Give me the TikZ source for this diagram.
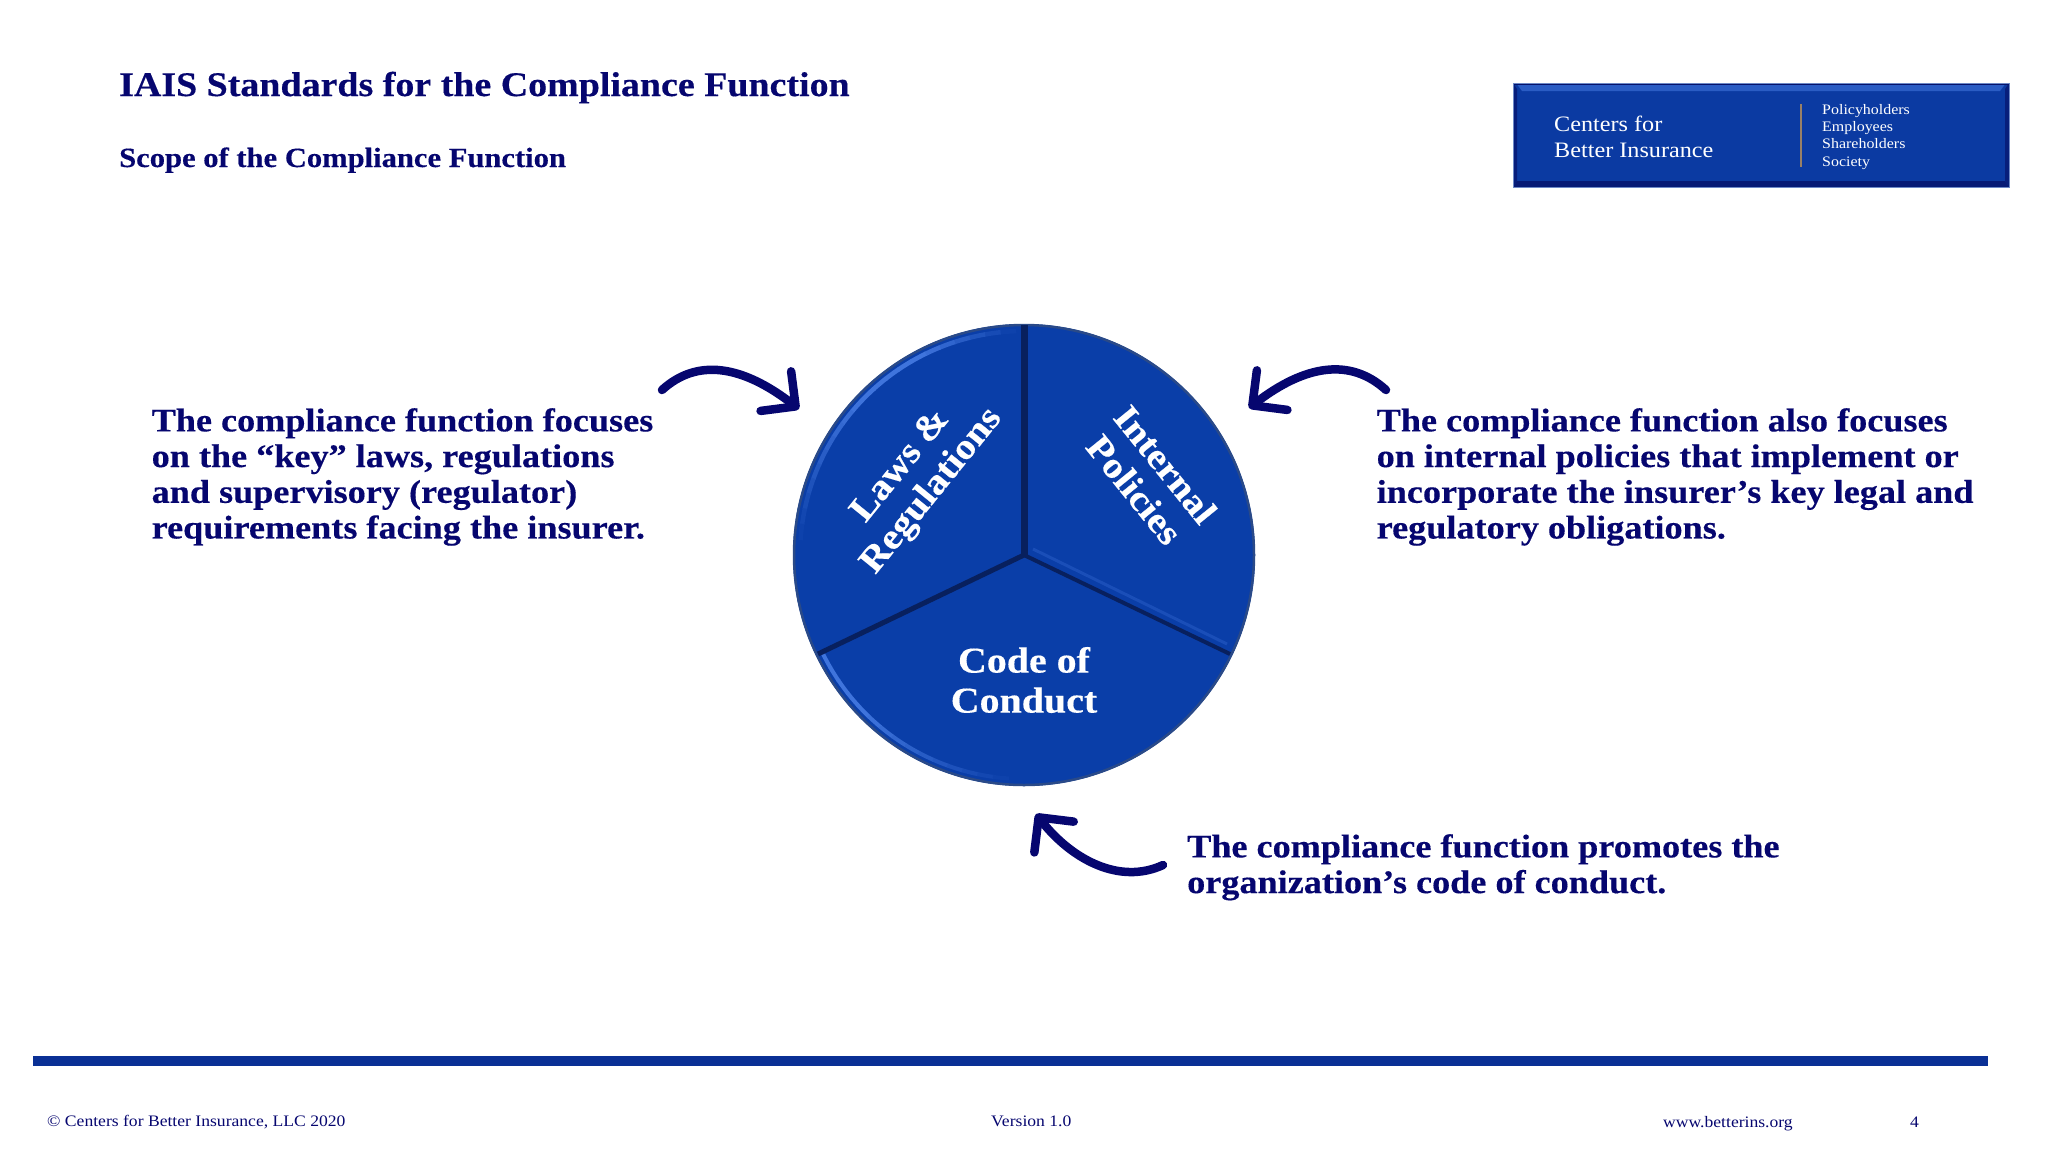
\documentclass[tikz,border=0pt]{standalone}
\usepackage{fontspec}
\setmainfont[FakeStretch=1.1,BoldFeatures={FakeBold=0.35}]{Liberation Serif}
\usetikzlibrary{arrows.meta,positioning,calc}
\definecolor{navytext}{HTML}{06066F}
\definecolor{pieblue}{HTML}{0A3EA8}
\definecolor{pielight}{HTML}{3F74DC}
\definecolor{piedark}{HTML}{08205E}
\definecolor{piegrey}{HTML}{2A4A88}
\definecolor{barblue}{HTML}{0A3095}
\definecolor{logoblue}{HTML}{0B3AA2}
\definecolor{logolight}{HTML}{2A5CC4}
\definecolor{logodark}{HTML}{06126A}
\tikzset{
  title/.style={anchor=base west, text=navytext, inner sep=0pt, font=\fontsize{34.5}{36}\selectfont\bfseries},
  subtitle/.style={anchor=base west, text=navytext, inner sep=0pt, font=\fontsize{27.8}{30}\selectfont\bfseries},
  bodytext/.style={anchor=north west, text=navytext, inner sep=0pt, align=left, font=\fontsize{32.9}{35.7}\selectfont\bfseries},
  slicetext/.style={text=white, inner sep=0pt, align=center, font=\fontsize{36.3}{40}\selectfont\bfseries},
  foot/.style={anchor=base west, text=navytext, inner sep=0pt, font=\fontsize{16}{18}\selectfont},
  logobig/.style={anchor=base west, text=white, inner sep=0pt, font=\fontsize{22}{26}\selectfont},
  logosmall/.style={anchor=base west, text=white, inner sep=0pt, font=\fontsize{14.5}{17}\selectfont},
  curvearrow/.style={draw=navytext, line width=8.5pt, line cap=round, -{Straight Barb[round,length=25pt,width=50pt]}},
}
\begin{document}
\begin{tikzpicture}[x=1pt,y=-1pt]
  \useasboundingbox (0,0) rectangle (2048,1152);

  \node[title] (pagetitle) at (119,96) {IAIS Standards for the Compliance Function};
  \node[subtitle] (pagesub) at (119,167) {Scope of the Compliance Function};

  % logo
  \begin{scope}[shift={(1513,83)}]
    \fill[logoblue] (0,0) rectangle (496,104);
    \fill[logodark!70!logoblue] (0,0) -- (4,6) -- (4,98) -- (0,104) -- cycle;
    \fill[logodark!70!logoblue] (496,0) -- (492,6) -- (492,98) -- (496,104) -- cycle;
    \fill[logodark!80!logoblue] (0,104) -- (4,98) -- (492,98) -- (496,104) -- cycle;
    \fill[logolight] (3,0) -- (9,8) -- (487,8) -- (493,0) -- cycle;
    \draw[logodark, line width=2pt] (0,1) -- (496,1);
    \draw[logoblue!60!white, line width=.8pt] (0,0) rectangle (496,104);
    \draw[line width=2pt, draw=gray!80!orange] (288,21) -- (288,84);
    \node[logobig] (logoa) at (41,48) {Centers for};
    \node[logobig] (logob) at (41,74) {Better Insurance};
    \node[logosmall] (logoc) at (309,31) {Policyholders};
    \node[logosmall] (logod) at (309,48) {Employees};
    \node[logosmall] (logoe) at (309,65) {Shareholders};
    \node[logosmall] (logof) at (309,83) {Society};
  \end{scope}

  % pie
  \begin{scope}[shift={(1024,555)}]
    \coordinate (hub) at (0,0);
    \fill[pieblue] (0,0) circle (231);
    \draw[piegrey, line width=2.5pt] (0,0) circle (230);
    \foreach \a in {92,96,...,172}{
      \pgfmathsetmacro{\m}{100*min(1,min((\a-90)/25,(175-\a)/40))}
      \draw[pielight!\m!pieblue, line width=4.5pt] (-\a:224) arc[start angle=-\a,end angle=-\a-4.2,radius=224];
    }
    \foreach \a in {206,210,...,262}{
      \pgfmathsetmacro{\m}{100*min(1,(265-\a)/42)}
      \draw[pielight!\m!pieblue, line width=4pt] (-\a:224) arc[start angle=-\a,end angle=-\a-4.2,radius=224];
    }
    \draw[pielight!30!pieblue, line width=3pt] (9,-6) -- (203,89);
    \draw[piedark, line width=7pt] (0,-230) -- (hub);
    \draw[piedark, line width=5pt] (-206,99) -- (hub);
    \draw[piedark, line width=4pt] (206,99) -- (hub);
    \node[slicetext, rotate=51] (laws) at (-107,-76) {Laws \&\\Regulations};
    \node[slicetext, rotate=-51] (policies) at (126,-78) {Internal\\Policies};
    \node[slicetext] (conduct) at (0,125) {Code of\\Conduct};
  \end{scope}

  % callouts
  \node[bodytext] (lawstext) at (151.5,408) {The compliance function focuses\\on the “key” laws, regulations\\and supervisory (regulator)\\requirements facing the insurer.};
  \node[bodytext] (policiestext) at (1376.5,408) {The compliance function also focuses\\on internal policies that implement or\\incorporate the insurer’s key legal and\\regulatory obligations.};
  \node[bodytext] (conducttext) at (1187,834) {The compliance function promotes the\\organization’s code of conduct.};

  \coordinate (lawsfrom) at (662,390);
  \coordinate (lawsto) at (799,409);
  \coordinate (policiesfrom) at (1386,390);
  \coordinate (policiesto) at (1249,408);
  \coordinate (conductfrom) at (1163,865);
  \coordinate (conductto) at (1036,814);
  \draw[curvearrow] (lawsfrom) .. controls (697,358) and (742,365) .. (lawsto);
  \draw[curvearrow] (policiesfrom) .. controls (1351,358) and (1306,364) .. (policiesto);
  \draw[curvearrow] (conductfrom) .. controls (1120,885) and (1072,860) .. (conductto);

  % footer
  \fill[barblue] (32.6,1056) rectangle (1988,1066);
  \node[foot] (copyright) at (47,1126) {© Centers for Better Insurance, LLC 2020};
  \node[foot] (version) at (991,1126) {Version 1.0};
  \node[foot] (website) at (1663,1127) {www.betterins.org};
  \node[foot] (pagenum) at (1910,1127) {4};
\end{tikzpicture}
\end{document}
